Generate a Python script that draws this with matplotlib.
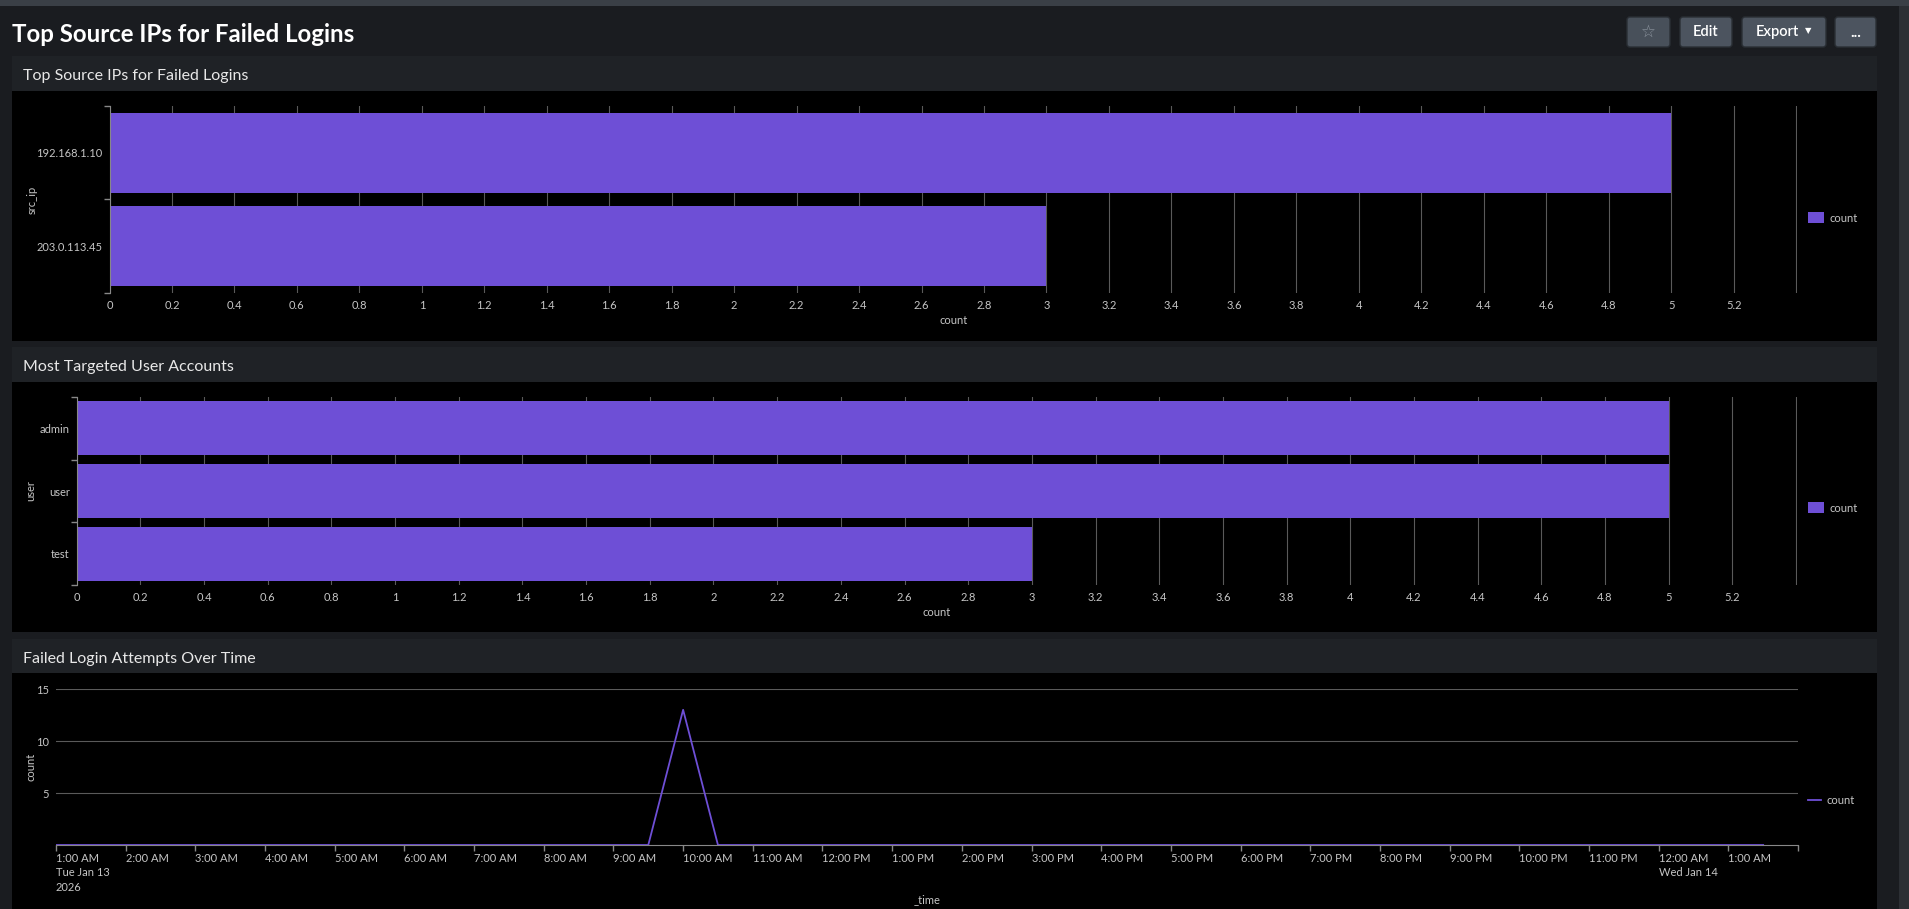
import matplotlib
matplotlib.use("Agg")
import matplotlib.pyplot as plt
from matplotlib.patches import Rectangle, FancyBboxPatch
from matplotlib.transforms import Affine2D
import numpy as np
import pandas as pd

# ---------------- data ----------------
ip_labels = ["192.168.1.10", "203.0.113.45"]
ip_counts = [5, 3]

user_labels = ["admin", "user", "test"]
user_counts = [5, 5, 3]

time_start = "2026-01-13 01:00"
time_counts = [0, 0, 0, 0, 0, 0, 0, 0, 0, 0,
               0, 0, 0, 0, 0, 0, 0, 0, 13, 0,
               0, 0, 0, 0, 0, 0, 0, 0, 0, 0,
               0, 0, 0, 0, 0, 0, 0, 0, 0, 0,
               0, 0, 0, 0, 0, 0, 0, 0, 0, 0]
hour_labels = ["1:00 AM\nTue Jan 13\n2026", "2:00 AM", "3:00 AM", "4:00 AM", "5:00 AM",
               "6:00 AM", "7:00 AM", "8:00 AM", "9:00 AM", "10:00 AM", "11:00 AM",
               "12:00 PM", "1:00 PM", "2:00 PM", "3:00 PM", "4:00 PM", "5:00 PM",
               "6:00 PM", "7:00 PM", "8:00 PM", "9:00 PM", "10:00 PM", "11:00 PM",
               "12:00 AM\nWed Jan 14", "1:00 AM", ""]

# ---------------- style ----------------
W, H, DPI = 1909, 909, 100
PURPLE = "#6e4fd6"
PAGE_BG = "#1a1c20"
HEAD_BG = "#1f2226"
TOP_STRIP = "#3a3f46"
GRID = "#5a5a5a"
TICK_TXT = "#c6c6c6"
HEAD_TXT = "#e8e8e8"
FONT = ["Lato", "DejaVu Sans"]
plt.rcParams["font.family"] = FONT

fig = plt.figure(figsize=(W / DPI, H / DPI), dpi=DPI, facecolor=PAGE_BG)
PX = Affine2D().scale(1.0 / W, -1.0 / H).translate(0, 1) + fig.transFigure


def rect(x0, y0, x1, y1, color, z=-10):
    fig.patches.append(Rectangle((x0, y0), x1 - x0, y1 - y0, transform=PX,
                                 facecolor=color, edgecolor="none", zorder=z))


def rbox(x0, y0, x1, y1, color, edge, r=3):
    fig.patches.append(FancyBboxPatch((x0, y0), x1 - x0, y1 - y0,
                                      boxstyle=f"round,pad=0,rounding_size={r}",
                                      transform=PX, facecolor=color, edgecolor=edge,
                                      linewidth=1.0, zorder=-5))


def axes_px(x0, y0, x1, y1):
    return fig.add_axes([x0 / W, 1 - y1 / H, (x1 - x0) / W, (y1 - y0) / H])


# page chrome
rect(0, 0, W, 6, TOP_STRIP)
rect(1899, 6, W, H, "#2c2f34")
fig.text(12, 35, "Top Source IPs for Failed Logins", transform=PX, color="#ffffff",
         fontsize=17.3, fontweight="bold", va="center", ha="left")

# buttons
rbox(1627, 17, 1670, 47, "#48505a", "#2a2f35")
fig.text(1648.5, 32, "\u2606", transform=PX, color="#8c949e", fontsize=12,
         ha="center", va="center", family="DejaVu Sans")
rbox(1680, 17, 1732, 47, "#4c545f", "#2a2f35")
fig.text(1706, 32, "Edit", transform=PX, color="#ffffff", fontsize=10.5,
         ha="center", va="center", fontweight="semibold")
rbox(1742, 17, 1826, 47, "#4c545f", "#2a2f35")
fig.text(1777, 32, "Export", transform=PX, color="#ffffff", fontsize=10.5,
         ha="center", va="center", fontweight="semibold")
fig.text(1808, 31, "\u25BC", transform=PX, color="#ffffff", fontsize=6,
         ha="center", va="center", family="DejaVu Sans")
rbox(1835, 17, 1876, 47, "#4c545f", "#2a2f35")
fig.text(1855.5, 33, "...", transform=PX, color="#ffffff", fontsize=11,
         ha="center", va="center", fontweight="bold")

# panels: header + black body
panels = [(56, 91, 341, "Top Source IPs for Failed Logins"),
          (347, 382, 632, "Most Targeted User Accounts"),
          (639, 673, 930, "Failed Login Attempts Over Time")]
for top, body, bottom, title in panels:
    rect(12, top, 1877, body, HEAD_BG)
    rect(12, body, 1877, bottom, "#000000")
    fig.text(23, (top + body) / 2 + 2.5, title, transform=PX, color=HEAD_TXT,
             fontsize=11.5, va="center", ha="left")


def bar_panel(ax, labels, counts, ylabel, legend_y):
    n = len(labels)
    ax.set_facecolor("#000000")
    ax.barh(np.arange(n), counts, height=0.86, color=PURPLE, zorder=2, label="count")
    ax.set_ylim(n - 0.5, -0.5)
    ax.set_xlim(0, 5.403)
    xt = np.round(np.arange(0, 5.41, 0.2), 1)
    ax.set_xticks(xt, [f"{v:g}" if v < 5.3 else "" for v in xt])
    ax.grid(axis="x", color=GRID, lw=0.8, zorder=0)
    ax.set_axisbelow(True)
    ax.tick_params(axis="x", length=0, pad=5, labelsize=8, labelcolor=TICK_TXT)
    ax.set_yticks(np.arange(n), labels)
    ax.set_yticks(np.arange(n + 1) - 0.5, minor=True)
    ax.tick_params(axis="y", which="major", length=0, pad=5, labelsize=8,
                   labelcolor=TICK_TXT)
    ax.tick_params(axis="y", which="minor", length=4, width=1, color="#888888")
    for s in ["top", "right", "bottom"]:
        ax.spines[s].set_visible(False)
    ax.spines["left"].set_color("#888888")
    ax.set_ylabel(ylabel, color=TICK_TXT, fontsize=8, va="center")
    ax.set_xlabel("count", color=TICK_TXT, fontsize=8, va="center")
    ax.legend(loc="center left", bbox_to_anchor=(1808 / W, 1 - legend_y / H),
              bbox_transform=fig.transFigure, frameon=False, fontsize=8,
              labelcolor=TICK_TXT, handlelength=1.4, handleheight=1.1,
              handletextpad=0.5, borderaxespad=0, borderpad=0)


ax1 = axes_px(109.5, 106, 1797, 293)
bar_panel(ax1, ip_labels, ip_counts, "src_ip", 218)
ax1.yaxis.set_label_coords(32 / W, 1 - 200 / H, transform=fig.transFigure)
ax1.xaxis.set_label_coords(0.5, -(321 - 293) / (293 - 106))

ax2 = axes_px(76.7, 397, 1797, 585)
bar_panel(ax2, user_labels, user_counts, "user", 508)
ax2.yaxis.set_label_coords(31 / W, 1 - 491 / H, transform=fig.transFigure)
ax2.xaxis.set_label_coords(0.5, -(612 - 585) / (585 - 397))

# line chart
ax3 = axes_px(56, 689, 1798, 845)
ax3.set_facecolor("#000000")
times = pd.date_range(time_start, periods=len(time_counts), freq="30min")
t0 = pd.Timestamp(time_start)
ax3.plot(times, time_counts, color=PURPLE, lw=1.3, zorder=3, label="count")
ax3.set_xlim(t0, t0 + pd.Timedelta(hours=25))
ax3.set_ylim(0, 15)
ax3.set_yticks([5, 10, 15])
ax3.grid(axis="y", color=GRID, lw=0.8, zorder=0)
ax3.set_axisbelow(True)
ax3.tick_params(axis="y", length=0, pad=5, labelsize=8, labelcolor=TICK_TXT)
hour_ticks = pd.date_range(t0, periods=26, freq="1h")
ax3.set_xticks(hour_ticks, hour_labels, ha="left", linespacing=1.35)
ax3.tick_params(axis="x", length=4, width=1, color="#888888", pad=2, labelsize=8,
                labelcolor=TICK_TXT)
for s in ["top", "right", "left"]:
    ax3.spines[s].set_visible(False)
ax3.spines["bottom"].set_color("#888888")
ax3.set_ylabel("count", color=TICK_TXT, fontsize=8, va="center")
ax3.yaxis.set_label_coords(31 / W, 1 - 767 / H, transform=fig.transFigure)
ax3.set_xlabel("_time", color=TICK_TXT, fontsize=8, va="center")
ax3.xaxis.set_label_coords(0.5, -(900 - 845) / (845 - 689))
ax3.legend(loc="center left", bbox_to_anchor=(1808 / W, 1 - 800 / H),
           bbox_transform=fig.transFigure, frameon=False, fontsize=8,
           labelcolor=TICK_TXT, handlelength=1.2, handletextpad=0.5,
           borderaxespad=0, borderpad=0)

fig.savefig("out.png", dpi=DPI, facecolor=PAGE_BG)
